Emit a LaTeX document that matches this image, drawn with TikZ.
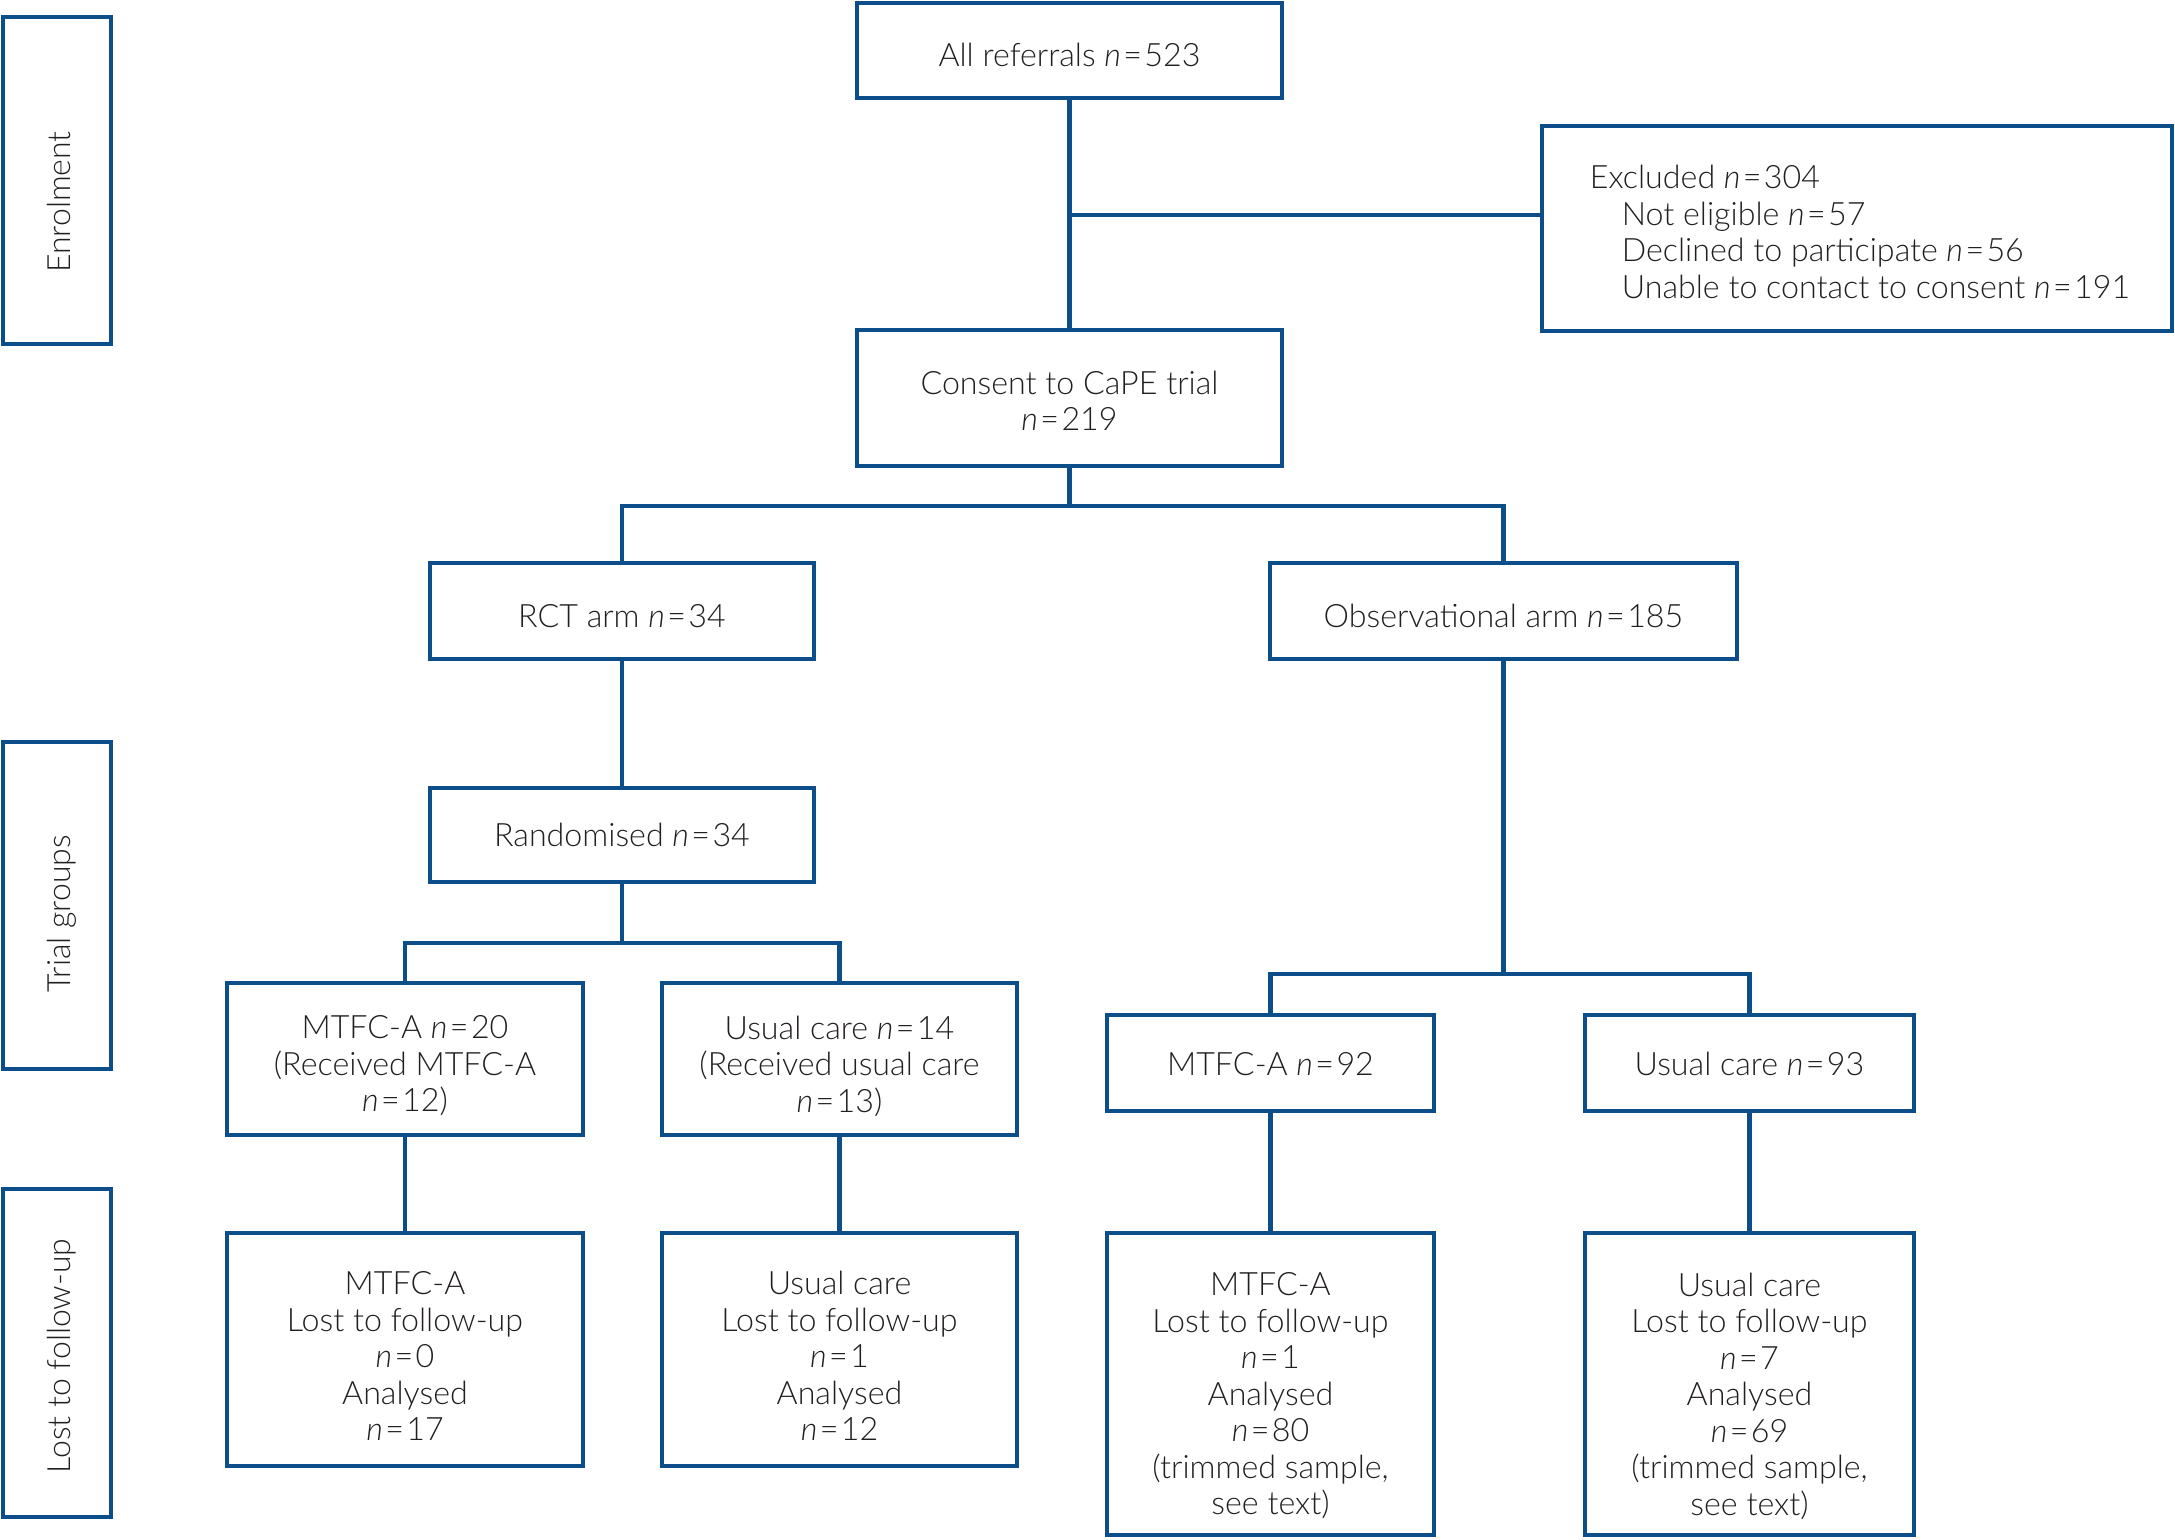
\documentclass[tikz,border=0pt]{standalone}
\usepackage{fontspec}
\setmainfont{Lato}[UprightFont=* Light, ItalicFont=* Light Italic]
\usetikzlibrary{fit}
\definecolor{lineblue}{RGB}{12,78,138}
\definecolor{txt}{RGB}{35,31,32}
\newcommand\nval[1]{\textit{n}\kern1.2pt=\kern1.2pt#1}
\begin{document}
\begin{tikzpicture}[x=0.5pt,y=-0.5pt,
  box/.style={draw=lineblue, line width=2.2pt, inner sep=0pt},
  boxtext/.style={inner sep=0pt, align=center, text=txt, anchor=center,
    font=\fontsize{16.1}{18.25}\selectfont},
  sidelabel/.style={rotate=90, anchor=base, inner sep=0pt, text=txt, font=\fontsize{16}{19}\selectfont},
  link/.style={draw=lineblue, line width=2.2pt}]
\useasboundingbox (0,0) rectangle (2175,1539);
% side boxes
\node[box, fit={(3,17) (111,344)}] (enrol) {};
\node[box, fit={(3,742) (111,1069)}] (trial) {};
\node[box, fit={(3,1189) (111,1517)}] (lost) {};
\node[sidelabel] (enrolL) at (70,202) {Enrolment};
\node[sidelabel] (trialL) at (70,914) {Trial groups};
\node[sidelabel] (lostL) at (70,1356) {Lost to follow-up};
% main boxes
\node[box, fit={(857,3) (1282,98)}] (ref) {};
\node[box, fit={(1542,126) (2172,331)}] (excl) {};
\node[box, fit={(857,330) (1282,466)}] (consent) {};
\node[box, fit={(430,563) (814,659)}] (rct) {};
\node[box, fit={(1270,563) (1737,659)}] (obs) {};
\node[box, fit={(430,788) (814,882)}] (rand) {};
\node[box, fit={(227,983) (583,1135)}] (mt1) {};
\node[box, fit={(662,983) (1017,1135)}] (uc1) {};
\node[box, fit={(1107,1015) (1434,1111)}] (mt2) {};
\node[box, fit={(1585,1015) (1914,1111)}] (uc2) {};
\node[box, fit={(227,1233) (583,1466)}] (lmt1) {};
\node[box, fit={(662,1233) (1017,1466)}] (luc1) {};
\node[box, fit={(1107,1233) (1434,1535)}] (lmt2) {};
\node[box, fit={(1585,1233) (1914,1535)}] (luc2) {};
% box texts
\node[boxtext] (refT) at (1069.5,55) {All referrals \nval{523}};
\node[boxtext, align=left] (exclT) at (1860,232) {Excluded \nval{304}\\
  \hspace*{16pt}Not eligible \nval{57}\\
  \hspace*{16pt}Declined to participate \nval{56}\\
  \hspace*{16pt}Unable to contact to consent \nval{191}};
\node[boxtext] (consentT) at (1069.5,401) {Consent to CaPE trial\\ \nval{219}};
\node[boxtext] (rctT) at (622,616) {RCT arm \nval{34}};
\node[boxtext] (obsT) at (1503.5,616) {Observational arm \nval{185}};
\node[boxtext] (randT) at (622,835) {Randomised \nval{34}};
\node[boxtext] (mt1T) at (405,1066) {MTFC-A \nval{20}\\ (Received MTFC-A\\ \nval{12})};
\node[boxtext] (uc1T) at (839.5,1066) {Usual care \nval{14}\\ (Received usual care\\ \nval{13})};
\node[boxtext] (mt2T) at (1270.5,1064) {MTFC-A \nval{92}};
\node[boxtext] (uc2T) at (1749.5,1064) {Usual care \nval{93}};
\node[boxtext] (lmt1T) at (405,1356) {MTFC-A\\ Lost to follow-up\\ \nval{0}\\ Analysed\\ \nval{17}};
\node[boxtext] (luc1T) at (839.5,1356) {Usual care\\ Lost to follow-up\\ \nval{1}\\ Analysed\\ \nval{12}};
\node[boxtext] (lmt2T) at (1270.5,1396) {MTFC-A\\ Lost to follow-up\\ \nval{1}\\ Analysed\\ \nval{80}\\ (trimmed sample,\\ see text)};
\node[boxtext] (luc2T) at (1749.5,1396) {Usual care\\ Lost to follow-up\\ \nval{7}\\ Analysed\\ \nval{69}\\ (trimmed sample,\\ see text)};
% connectors
\coordinate (j1) at (1069.5,215);
\coordinate (j2) at (1069.5,506);
\coordinate (j3) at (622,943);
\coordinate (j4) at (1503.5,974);
\draw[link] (ref.south) -- (consent.north);
\draw[link] (j1) -- (excl.west |- j1);
\draw[link] (consent.south) -- (j2);
\draw[link] (rct.north) |- (j2) -| (obs.north);
\draw[link] (rct.south) -- (rand.north);
\draw[link] (rand.south) -- (j3);
\draw[link] (mt1.north) |- (j3) -| (uc1.north);
\draw[link] (obs.south) -- (j4);
\draw[link] (mt2.north) |- (j4) -| (uc2.north);
\draw[link] (mt1.south) -- (lmt1.north);
\draw[link] (uc1.south) -- (luc1.north);
\draw[link] (mt2.south) -- (lmt2.north);
\draw[link] (uc2.south) -- (luc2.north);
\end{tikzpicture}
\end{document}
